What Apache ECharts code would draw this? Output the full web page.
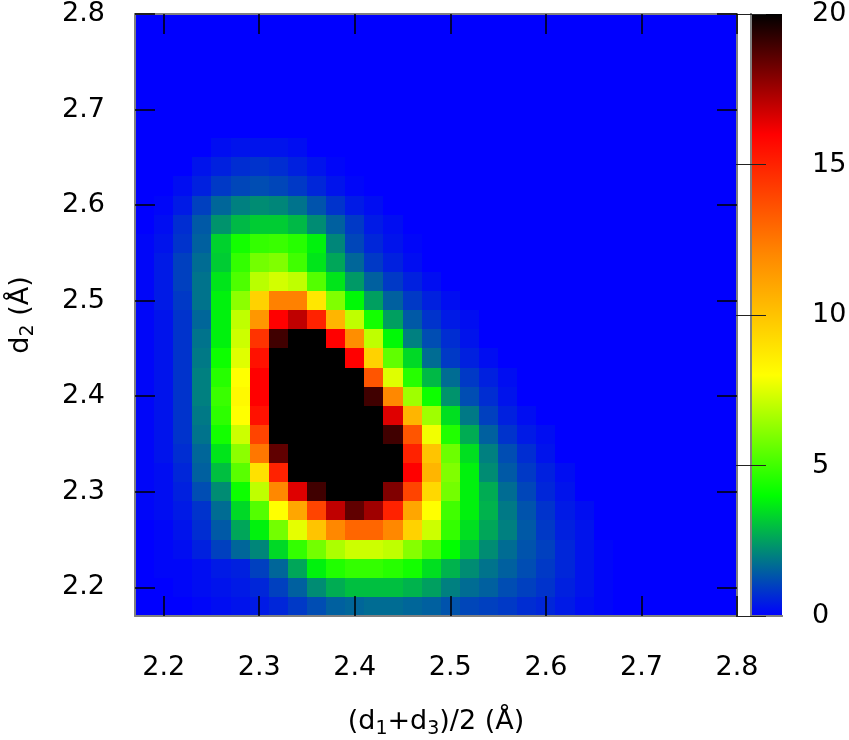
<!DOCTYPE html>
<html>
<head>
<meta charset="utf-8">
<script src="https://cdn.jsdelivr.net/npm/echarts@6/dist/echarts.min.js"></script>
<style>
    html, body { margin: 0; padding: 0; background: #fff; }
    #chart { width: 849px; height: 740px; }
</style>
</head>
<body>
<div id="chart"></div>
<script>
// cell centres of the density grid (step 0.02 A)
var xCenters = [2.18, 2.20, 2.22, 2.24, 2.26, 2.28, 2.30, 2.32, 2.34, 2.36, 2.38, 2.40, 2.42, 2.44, 2.46, 2.48,
                2.50, 2.52, 2.54, 2.56, 2.58, 2.60, 2.62, 2.64, 2.66, 2.68, 2.70, 2.72, 2.74, 2.76, 2.78, 2.80];
var yCenters = [2.80, 2.78, 2.76, 2.74, 2.72, 2.70, 2.68, 2.66, 2.64, 2.62, 2.60, 2.58, 2.56, 2.54, 2.52, 2.50,
                2.48, 2.46, 2.44, 2.42, 2.40, 2.38, 2.36, 2.34, 2.32, 2.30, 2.28, 2.26, 2.24, 2.22, 2.20, 2.18];

// density, one row per yCenters entry (top to bottom), 20 = black (saturated)
var density = [
    [0,0,0,0,0,0,0,0,0,0,0,0,0,0,0,0,0,0,0,0,0,0,0,0,0,0,0,0,0,0,0,0],
    [0,0,0,0,0,0,0,0,0,0,0,0,0,0,0,0,0,0,0,0,0,0,0,0,0,0,0,0,0,0,0,0],
    [0,0,0,0,0,0,0,0,0,0,0,0,0,0,0,0,0,0,0,0,0,0,0,0,0,0,0,0,0,0,0,0],
    [0,0,0,0,0,0,0,0,0,0,0,0,0,0,0,0,0,0,0,0,0,0,0,0,0,0,0,0,0,0,0,0],
    [0,0,0,0,0,0,0,0,0,0,0,0,0,0,0,0,0,0,0,0,0,0,0,0,0,0,0,0,0,0,0,0],
    [0,0,0,0,0,0,0,0,0,0,0,0,0,0,0,0,0,0,0,0,0,0,0,0,0,0,0,0,0,0,0,0],
    [0,0,0,0,0,0,0,0,0,0,0,0,0,0,0,0,0,0,0,0,0,0,0,0,0,0,0,0,0,0,0,0],
    [0,0,0,0,.2,.3,.3,.3,.2,0,0,0,0,0,0,0,0,0,0,0,0,0,0,0,0,0,0,0,0,0,0,0],
    [0,0,0,.3,.5,.7,.8,.7,.5,.3,.1,0,0,0,0,0,0,0,0,0,0,0,0,0,0,0,0,0,0,0,0,0],
    [0,0,.2,.5,.9,1.1,1.2,1.1,.9,.6,.3,.1,0,0,0,0,0,0,0,0,0,0,0,0,0,0,0,0,0,0,0,0],
    [0,.1,.4,1.0,1.6,2.0,2.2,2.1,1.8,1.3,.8,.4,.2,0,0,0,0,0,0,0,0,0,0,0,0,0,0,0,0,0,0,0],
    [0,.2,.7,1.4,2.3,2.9,3.2,3.2,2.9,2.2,1.5,.9,.4,.2,0,0,0,0,0,0,0,0,0,0,0,0,0,0,0,0,0,0],
    [.1,.3,.8,1.5,3.3,4.3,4.8,4.9,4.6,3.8,2.1,1.1,.6,.3,.1,0,0,0,0,0,0,0,0,0,0,0,0,0,0,0,0,0],
    [.1,.4,1.0,1.7,3.2,4.8,5.8,6.0,5.0,3.6,2.6,1.6,.9,.5,.2,0,0,0,0,0,0,0,0,0,0,0,0,0,0,0,0,0],
    [.1,.4,1.0,1.8,3.6,5.2,6.9,7.3,7.0,5.3,3.6,2.4,1.5,.9,.5,.2,0,0,0,0,0,0,0,0,0,0,0,0,0,0,0,0],
    [.1,.4,.9,1.8,3.8,6.2,9.5,12.2,12.2,8.8,6.0,3.9,2.5,1.5,.9,.5,.2,0,0,0,0,0,0,0,0,0,0,0,0,0,0,0],
    [.1,.3,.8,1.6,3.8,7.0,11.5,16.0,17.0,15.0,10.5,7.0,4.3,2.5,1.4,.8,.4,.2,0,0,0,0,0,0,0,0,0,0,0,0,0,0],
    [.1,.3,.8,1.8,3.8,7.2,14.5,19,20,20,16,11.8,7.0,3.9,2.0,1.2,.7,.3,0,0,0,0,0,0,0,0,0,0,0,0,0,0],
    [.1,.3,.8,1.9,4.2,7.5,15.5,20,20,20,20,16,9.5,5.5,3.4,1.7,.9,.5,.2,0,0,0,0,0,0,0,0,0,0,0,0,0],
    [.1,.3,.8,2.0,4.6,8.0,16,20,20,20,20,20,13.5,7.5,4.6,2.9,1.7,.9,.5,.2,0,0,0,0,0,0,0,0,0,0,0,0],
    [.1,.3,.8,2.0,4.9,8.2,16,20,20,20,20,20,19,12,6.5,4.2,2.3,1.2,.7,.3,0,0,0,0,0,0,0,0,0,0,0,0],
    [.1,.3,.8,1.9,4.7,8.0,15.5,20,20,20,20,20,20,16.5,10.5,6.5,3.5,1.9,1.0,.5,.2,0,0,0,0,0,0,0,0,0,0,0],
    [.1,.3,.8,1.8,4.3,7.2,14,20,20,20,20,20,20,19,13.5,7.8,4.5,2.7,1.5,.8,.4,.2,0,0,0,0,0,0,0,0,0,0],
    [.1,.3,.7,1.6,3.6,6.2,12.5,18.5,20,20,20,20,20,20,15,10,5.7,3.5,2.0,1.2,.7,.3,0,0,0,0,0,0,0,0,0,0],
    [.1,.2,.6,1.5,3.0,5.4,9,15,20,20,20,20,20,20,16,10.5,6.0,3.8,2.2,1.4,.9,.5,.2,0,0,0,0,0,0,0,0,0],
    [.1,.2,.5,1.2,2.2,4.2,7,12,16.5,19,20,20,20,18,14,9.3,5.8,3.8,2.7,1.7,1.1,.6,.3,0,0,0,0,0,0,0,0,0],
    [.1,.2,.4,.8,1.7,3.4,5.3,8,11,14,17,18.5,17.5,15,11,8,5,3.8,2.8,1.9,1.3,.8,.4,.2,0,0,0,0,0,0,0,0],
    [0,.1,.3,.7,1.4,2.6,3.8,5.8,7.6,10,12,13,13,12,9.5,7.2,4.8,3.5,2.6,2.0,1.4,.9,.5,.3,0,0,0,0,0,0,0,0],
    [0,.1,.2,.5,1.0,1.6,2.1,3.4,4.8,5.8,6.7,7.2,7.2,7.0,6.1,5.3,4.0,3.0,2.2,1.7,1.3,1.0,.6,.3,.1,0,0,0,0,0,0,0],
    [0,.1,.1,.2,.4,.5,1.0,1.6,2.6,3.8,4.5,4.8,4.8,4.6,4.3,3.5,2.8,2.2,1.8,1.5,1.2,.9,.6,.3,.1,0,0,0,0,0,0,0],
    [0,0,.1,.2,.3,.4,.6,1.0,1.5,2.2,2.7,3.0,3.0,3.0,2.8,2.5,2.0,1.7,1.5,1.2,1.0,.8,.5,.3,.1,0,0,0,0,0,0,0],
    [0,0,0,.1,.2,.3,.4,.6,.9,1.2,1.5,1.6,1.7,1.7,1.6,1.5,1.3,1.1,1.0,.9,.7,.6,.4,.2,.1,0,0,0,0,0,0,0]
];

var xTicks = [2.2, 2.3, 2.4, 2.5, 2.6, 2.7, 2.8];
var yTicks = [2.2, 2.3, 2.4, 2.5, 2.6, 2.7, 2.8];
var cbTicks = [0, 5, 10, 15, 20];
var cbRange = [0, 20];
var palette = ['#0000ff', '#00ff00', '#ffff00', '#ff8800', '#ff0000', '#000000'];

var FONT = 'DejaVu Sans';
var half = 0.01;

var cells = [];
for (var j = 0; j < yCenters.length; j++) {
    for (var i = 0; i < xCenters.length; i++) {
        cells.push([xCenters[i], yCenters[j], density[j][i] || 0]);
    }
}

var chart = echarts.init(document.getElementById('chart'));

function frameAxis(grid, pos, min, max, ticks, withLabels, tickLen) {
    return {
        type: 'value',
        gridIndex: grid,
        position: pos,
        min: min,
        max: max,
        z: 10,
        splitLine: { show: false },
        axisLine: { show: true, lineStyle: { color: '#808080', width: 2 } },
        axisTick: {
            show: !!ticks,
            inside: true,
            length: tickLen,
            customValues: ticks || undefined,
            lineStyle: { color: '#000', width: 1.5 }
        },
        axisLabel: {
            show: withLabels,
            customValues: ticks || undefined,
            fontSize: 27,
            fontFamily: FONT,
            color: '#000',
            margin: 30,
            formatter: function (v) { return grid === 0 ? v.toFixed(1) : String(v); }
        }
    };
}

var nameStyle = {
    fontSize: 27, fontFamily: FONT, color: '#000', lineHeight: 36,
    rich: { s: { fontSize: 19, fontFamily: FONT, color: '#000', lineHeight: 19, padding: [14, 0, 0, 0] } }
};

var xMain = frameAxis(0, 'bottom', 2.17, 2.8, xTicks, true, 20);
xMain.axisLabel.margin = 38;
xMain.name = '(d{s|1}+d{s|3})/2 (Å)';
xMain.nameLocation = 'middle';
xMain.nameGap = 88;
xMain.nameTextStyle = nameStyle;

var yMain = frameAxis(0, 'left', 2.17, 2.8, yTicks, true, 20);
yMain.name = 'd{s|2} (Å)';
yMain.nameLocation = 'middle';
yMain.nameGap = 96;
yMain.nameTextStyle = nameStyle;

var yBar = frameAxis(1, 'right', cbRange[0], cbRange[1], cbTicks, true, 15);
yBar.axisTick.lineStyle = { color: '#222', width: 1 };
var yBarMirror = frameAxis(1, 'left', cbRange[0], cbRange[1], cbTicks, false, 15);
yBarMirror.axisTick.lineStyle = { color: '#222', width: 1 };

var option = {
    animation: false,
    backgroundColor: '#fff',
    grid: [
        { left: 135, top: 14, width: 602, height: 602, outerBoundsMode: 'none' },
        { left: 751, top: 14, width: 31, height: 602, outerBoundsMode: 'none' }
    ],
    xAxis: [
        xMain,
        frameAxis(0, 'top', 2.17, 2.8, xTicks, false, 20),
        frameAxis(1, 'bottom', 0, 1, null, false, 0),
        frameAxis(1, 'top', 0, 1, null, false, 0)
    ],
    yAxis: [
        yMain,
        frameAxis(0, 'right', 2.17, 2.8, yTicks, false, 20),
        yBar,
        yBarMirror
    ],
    visualMap: {
        type: 'continuous',
        show: false,
        seriesIndex: 0,
        dimension: 2,
        min: cbRange[0],
        max: cbRange[1],
        inRange: { color: palette }
    },
    series: [
        {
            type: 'custom',
            xAxisIndex: 0,
            yAxisIndex: 0,
            clip: true,
            data: cells,
            renderItem: function (params, api) {
                var x = api.value(0), y = api.value(1);
                var a = api.coord([x - half, y + half]);
                var b = api.coord([x + half, y - half]);
                var x0 = Math.round(a[0]), y0 = Math.round(a[1]);
                return {
                    type: 'rect',
                    shape: { x: x0, y: y0, width: Math.round(b[0]) - x0, height: Math.round(b[1]) - y0 },
                    style: { fill: api.visual('color') }
                };
            }
        },
        {
            // colour bar
            type: 'custom',
            xAxisIndex: 2,
            yAxisIndex: 2,
            data: [[0, cbRange[0]]],
            renderItem: function (params, api) {
                var a = api.coord([0, cbRange[1]]);
                var b = api.coord([1, cbRange[0]]);
                var stops = palette.map(function (c, k) {
                    return { offset: k / (palette.length - 1), color: c };
                });
                return {
                    type: 'rect',
                    shape: { x: a[0], y: a[1], width: b[0] - a[0], height: b[1] - a[1] },
                    style: { fill: new echarts.graphic.LinearGradient(0, 1, 0, 0, stops) }
                };
            }
        }
    ]
};

chart.setOption(option);
</script>
</body>
</html>
